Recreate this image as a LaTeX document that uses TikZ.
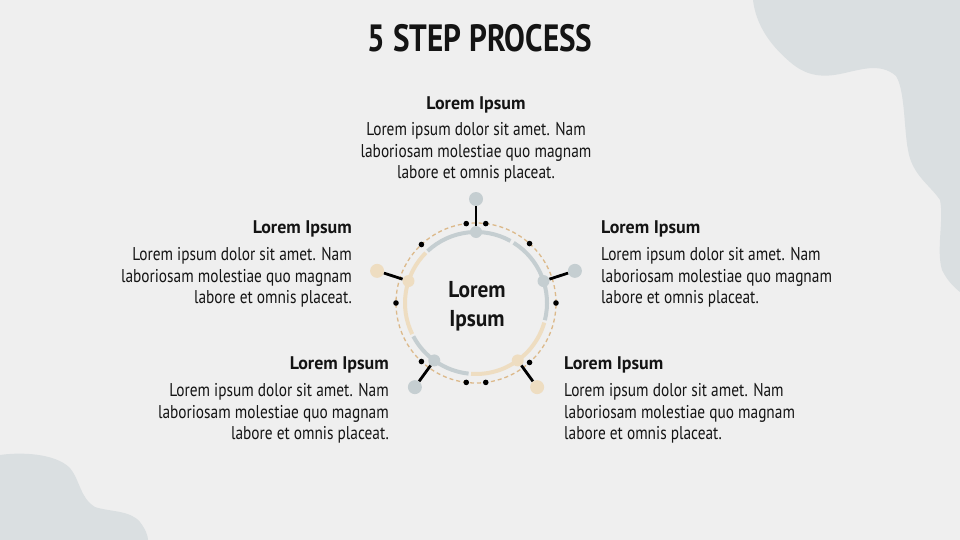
\documentclass[tikz,border=0pt]{standalone}
\usepackage{fontspec}
\setmainfont{PT Sans}
\newfontfamily\bodyfont[FakeStretch=0.83]{PT Sans}
\newfontfamily\headfont[FakeStretch=0.98]{PT Sans}
\newfontfamily\centerfont[FakeStretch=0.93]{PT Sans}
\newfontfamily\titlefont[FakeStretch=0.82]{PT Sans}
\definecolor{bgc}{HTML}{EFEFEF}
\definecolor{blobc}{HTML}{DADFE1}
\definecolor{cblue}{HTML}{C5CED1}
\definecolor{cbeige}{HTML}{EEDDC1}
\definecolor{cdash}{HTML}{DCB98A}
\definecolor{ink}{HTML}{141414}
\tikzset{
  heading/.style={inner sep=0pt, text=ink, font=\headfont\bfseries\fontsize{18.3}{21.3}\selectfont},
  bodytext/.style={inner sep=0pt, text=ink, font=\bodyfont\fontsize{18.5}{21.3}\selectfont},
  arcb/.style={draw=cblue, line width=4pt},
  arce/.style={draw=cbeige, line width=4pt},
  innerc/.style={circle, minimum size=12pt, inner sep=0pt},
  outerc/.style={circle, minimum size=14pt, inner sep=0pt},
  spoke/.style={draw=black, line width=2.8pt},
  blackdot/.style={fill=black}
}
\begin{document}
\begin{tikzpicture}[x=1pt,y=-1pt]
\useasboundingbox (0,0) rectangle (960,540);
\fill[bgc] (0,0) rectangle (960,540);
% blobs
\fill[blobc] (753,0) .. controls (756,25) and (770,45) .. (790,62)
  .. controls (805,75) and (820,78) .. (840,74)
  .. controls (860,70) and (880,62) .. (896,76)
  .. controls (905,90) and (904,130) .. (908,150)
  .. controls (912,175) and (930,185) .. (940,200)
  .. controls (944,220) and (936,250) .. (942,270)
  .. controls (948,282) and (955,288) .. (960,292) -- (960,0) -- cycle;
\fill[blobc] (0,455) .. controls (20,452) and (55,453) .. (70,468)
  .. controls (80,480) and (80,498) .. (95,507)
  .. controls (110,512) and (130,510) .. (140,522)
  .. controls (146,530) and (148,536) .. (148,540) -- (0,540) -- cycle;
% title
\node[anchor=base, inner sep=0pt, text=ink, font=\titlefont\bfseries\fontsize{38}{40}\selectfont] (title) at (480,52) {5 STEP PROCESS};
% ring (y up inside this scope)
\begin{scope}[shift={(476,303)}, yscale=-1]
\coordinate (C) at (0,0);
\draw[cdash, line width=1.3pt, dash pattern=on 4pt off 3pt] (C) circle[radius=80];
\draw[arcb] (133:71) arc[start angle=133, end angle=61, radius=71];
\draw[arcb] (58:71) arc[start angle=58, end angle=-14, radius=71];
\draw[arce] (-16:71) arc[start angle=-16, end angle=-94, radius=71];
\draw[arcb] (-96:71) arc[start angle=-96, end angle=-152, radius=71];
\draw[arce] (-154:71) arc[start angle=-154, end angle=-225, radius=71];
\foreach \a in {83,97,48,0,-48,-83,-97,-133,180,133}
  \fill[blackdot] (\a:80) circle[radius=2.8];
\foreach \a/\c [count=\k] in {90/cblue,18/cblue,-54/cbeige,-126/cblue,162/cbeige}{
  \node[innerc, fill=\c] (i\k) at (\a:71) {};
  \node[outerc, fill=\c] (o\k) at (\a:104) {};
  \draw[spoke] (i\k) -- (o\k);
}
\end{scope}
% center text
\node[anchor=north, inner sep=0pt, align=center, text=ink, font=\centerfont\bfseries\fontsize{23}{29}\selectfont] (ctext) at (477,281.5) {Lorem\\Ipsum};
% top block
\node[heading, anchor=base] (h1) at (476,110) {Lorem Ipsum};
\node[bodytext, anchor=north, align=center] (b1) at (476,122.5) {Lorem ipsum dolor sit amet. Nam\\laboriosam molestiae quo magnam\\labore et omnis placeat.};
% upper left
\node[heading, anchor=base east] (h2) at (352,233) {Lorem Ipsum};
\node[bodytext, anchor=north east, align=right] (b2) at (352,247.5) {Lorem ipsum dolor sit amet. Nam\\laboriosam molestiae quo magnam\\labore et omnis placeat.};
% upper right
\node[heading, anchor=base west] (h3) at (601,233) {Lorem Ipsum};
\node[bodytext, anchor=north west, align=left] (b3) at (601,247.5) {Lorem ipsum dolor sit amet. Nam\\laboriosam molestiae quo magnam\\labore et omnis placeat.};
% lower left
\node[heading, anchor=base east] (h4) at (389,369) {Lorem Ipsum};
\node[bodytext, anchor=north east, align=right] (b4) at (389,383.5) {Lorem ipsum dolor sit amet. Nam\\laboriosam molestiae quo magnam\\labore et omnis placeat.};
% lower right
\node[heading, anchor=base west] (h5) at (564,369) {Lorem Ipsum};
\node[bodytext, anchor=north west, align=left] (b5) at (564,383.5) {Lorem ipsum dolor sit amet. Nam\\laboriosam molestiae quo magnam\\labore et omnis placeat.};
\end{tikzpicture}
\end{document}
